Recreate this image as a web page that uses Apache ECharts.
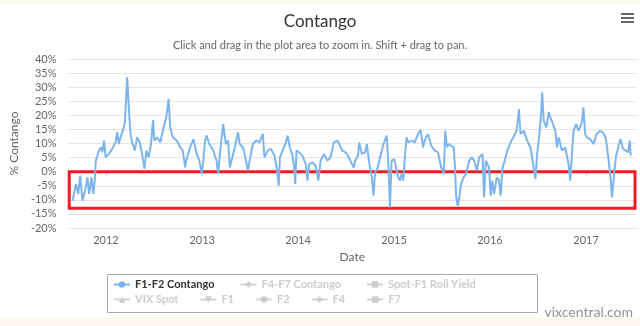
<!DOCTYPE html>
<html><head><meta charset="utf-8">
<script src="https://cdn.jsdelivr.net/npm/echarts@6/dist/echarts.min.js"></script>
<style>
html,body{margin:0;padding:0;background:#fbf8ee;width:640px;height:326px;overflow:hidden;}
#panel{position:absolute;left:0;top:4px;width:640px;height:314px;background:#ffffff;}
#chart{position:absolute;left:0;top:0;width:640px;height:326px;}
</style></head><body>
<div id="panel"></div><div id="chart"></div>
<script>
// Dates as decimal years
const dateYears = [
2011.652,2011.687,2011.711,2011.731,2011.755,2011.773,2011.790,2011.807,2011.824,2011.835,
2011.848,2011.869,2011.883,2011.894,2011.910,2011.928,2011.945,2011.962,2011.979,2011.997,
2012.031,2012.065,2012.100,2012.117,2012.134,2012.152,2012.179,2012.196,2012.207,2012.220,
2012.230,2012.241,2012.255,2012.272,2012.300,2012.323,2012.351,2012.375,2012.400,2012.420,
2012.444,2012.468,2012.489,2012.503,2012.530,2012.565,2012.599,2012.627,2012.651,2012.668,
2012.695,2012.737,2012.772,2012.799,2012.823,2012.834,2012.875,2012.909,2012.943,2012.971,
2012.995,2013.012,2013.030,2013.047,2013.074,2013.116,2013.150,2013.167,2013.185,2013.219,
2013.247,2013.271,2013.288,2013.305,2013.340,2013.374,2013.392,2013.426,2013.443,2013.477,
2013.495,2013.529,2013.563,2013.598,2013.632,2013.650,2013.684,2013.718,2013.753,2013.777,
2013.798,2013.811,2013.839,2013.873,2013.891,2013.914,2013.942,2013.960,2013.970,2013.984,
2014.011,2014.045,2014.080,2014.097,2014.115,2014.149,2014.183,2014.211,2014.235,2014.270,
2014.304,2014.338,2014.373,2014.407,2014.431,2014.459,2014.493,2014.528,2014.562,2014.580,
2014.596,2014.624,2014.638,2014.665,2014.700,2014.717,2014.741,2014.769,2014.786,2014.803,
2014.831,2014.855,2014.890,2014.924,2014.941,2014.958,2014.975,2015.003,2015.027,2015.044,
2015.061,2015.079,2015.096,2015.113,2015.130,2015.148,2015.182,2015.216,2015.251,2015.278,
2015.303,2015.319,2015.354,2015.388,2015.423,2015.458,2015.492,2015.520,2015.533,2015.554,
2015.567,2015.595,2015.623,2015.636,2015.647,2015.664,2015.681,2015.698,2015.726,2015.750,
2015.784,2015.809,2015.836,2015.864,2015.888,2015.923,2015.939,2015.957,2015.991,2016.008,
2016.026,2016.043,2016.070,2016.094,2016.112,2016.129,2016.153,2016.181,2016.215,2016.243,
2016.277,2016.290,2016.301,2016.318,2016.352,2016.387,2016.422,2016.449,2016.473,2016.491,
2016.518,2016.532,2016.543,2016.559,2016.587,2016.611,2016.628,2016.656,2016.680,2016.697,
2016.714,2016.749,2016.783,2016.817,2016.835,2016.852,2016.869,2016.897,2016.921,2016.956,
2016.972,2016.990,2017.007,2017.042,2017.076,2017.111,2017.145,2017.179,2017.207,2017.231,
2017.255,2017.269,2017.289,2017.310,2017.334,2017.358,2017.385,2017.413,2017.437,2017.455,
2017.465
];
// F1-F2 contango (%)
const contango = [
-10.3,-4.4,-7.9,-1.4,-10.3,-10.9,-5.6,-2.0,-7.9,-5.6,
-2.0,-7.9,-3.2,3.9,3.9,7.5,8.6,6.9,11.0,5.1,
6.3,8.1,10.4,14.0,9.8,12.2,15.1,17.5,24.0,33.5,
27.6,20.5,13.4,10.4,7.5,12.2,10.4,6.3,1.0,7.5,
5.1,9.8,18.3,11.0,12.2,10.4,15.7,19.3,25.8,15.7,
12.2,11.0,8.6,7.5,1.5,3.9,8.6,11.6,6.3,3.9,
-0.8,3.9,11.0,12.8,9.8,7.5,3.9,-0.8,6.3,16.9,
9.8,11.0,1.5,3.9,8.6,14.0,9.8,8.6,6.3,0.4,
3.9,9.8,11.0,10.4,13.4,5.1,7.5,8.1,5.7,1.5,
-5.0,5.1,7.5,10.4,12.8,8.6,5.7,1.5,-4.4,7.5,
6.9,5.7,2.7,-3.2,2.7,3.3,2.1,-3.2,3.9,6.3,
3.9,5.1,10.4,11.0,9.8,7.5,6.9,5.1,2.7,1.5,
3.9,5.7,10.4,6.3,6.9,9.8,3.3,-2.0,-8.5,-0.2,
1.5,5.1,9.8,12.8,2.7,-12.7,3.9,4.5,0.4,-2.0,
-3.2,-0.8,-3.2,5.1,12.2,10.4,11.0,10.4,13.4,14.8,
8.6,11.0,13.4,9.2,7.5,6.9,1.5,-0.8,14.5,8.6,
9.8,9.2,8.6,1.5,-8.5,-12.1,-9.1,-4.4,-2.0,-0.8,
3.9,5.1,3.9,0.4,5.1,6.3,-9.1,3.9,1.5,-8.5,
-3.2,-7.9,-2.0,-3.2,-8.5,0.9,3.9,7.5,10.4,12.2,
14.5,18.1,22.2,13.4,14.5,11.0,8.6,2.7,-2.6,6.3,
14.5,20.5,28.2,18.1,15.7,21.1,19.3,16.9,14.5,8.6,
12.2,7.5,8.6,2.7,-3.2,6.3,14.5,16.9,14.5,17.5,
22.8,13.4,12.2,11.6,9.8,13.4,14.5,13.9,11.6,5.1,
-2.0,-9.1,-2.0,5.1,8.6,11.6,8.1,7.5,6.9,11.0,
5.7
];
const seriesNames = ['F1-F2 Contango','F4-F7 Contango','Spot-F1 Roll Yield','VIX Spot','F1','F2','F4','F7'];
const seriesSymbols = ['circle','diamond','rect','triangle','path://M0,0 L10,0 L5,10 Z','circle','diamond','rect'];
const seriesColors = ['#7cb5ec','#434348','#90ed7d','#f7a35c','#8085e9','#f15c80','#e4d354','#2b908f'];
const visibleSeries = ['F1-F2 Contango'];
const xAxisStartYear = 2011.61, xAxisEndYear = 2017.52;
const yMin = -20, yMax = 40, yStep = 5;
const boxStartYear = 2011.617, boxEndYear = 2017.51, boxTop = 0, boxBottom = -13;
const titleText = 'Contango';
const subtitleText = 'Click and drag in the plot area to zoom in. Shift + drag to pan.';
const xAxisName = 'Date', yAxisName = '% Contango', creditText = 'vixcentral.com';

function yearToTs(t){
  const y = Math.floor(t);
  const a = Date.UTC(y,0,1), b = Date.UTC(y+1,0,1);
  return a + (t - y) * (b - a);
}
const FONT = 'Lato, "Liberation Sans", sans-serif';
const chart = echarts.init(document.getElementById('chart'), null, {renderer:'canvas'});
const selected = {};
seriesNames.forEach(n => selected[n] = visibleSeries.indexOf(n) >= 0);
const legendCommon = {
  left: 113, itemWidth: 16, itemHeight: 8, selected: selected,
  inactiveColor:'#cccccc', inactiveBorderColor:'#cccccc',
  textStyle:{fontSize:11, color:'#333333', fontFamily:FONT, fontWeight:'bold'}, padding:0
};
const series = seriesNames.map((n,i) => {
  const s = {
    name:n, type:'line', symbol: seriesSymbols[i], showSymbol:false, animation:false,
    color: seriesColors[i], lineStyle:{width:2, color:seriesColors[i]},
    data: i === 0 ? dateYears.map((t,k) => [yearToTs(t), contango[k]]) : []
  };
  if (i === 0) {
    s.markArea = {silent:true, animation:false,
      itemStyle:{color:'rgba(0,0,0,0)', borderColor:'#ee1c24', borderWidth:3},
      data:[[{coord:[yearToTs(boxStartYear), boxTop]},{coord:[yearToTs(boxEndYear), boxBottom]}]]};
  }
  return s;
});
chart.setOption({
  useUTC: true,
  animation:false,
  textStyle:{fontFamily:FONT},
  title:[
    {text:titleText, left:'center', top:8, textStyle:{fontSize:17, fontWeight:'normal', color:'#333333', fontFamily:FONT}},
    {text:subtitleText, left:'center', top:35, textStyle:{fontSize:11, fontWeight:'normal', color:'#666666', fontFamily:FONT}}
  ],
  legend:[
    Object.assign({}, legendCommon, {top:279, itemGap:25, data:seriesNames.slice(0,3)}),
    Object.assign({}, legendCommon, {top:294, itemGap:21, data:seriesNames.slice(3)})
  ],
  grid:{left:64, right:4, top:59, bottom:98},
  xAxis:{
    type:'time', min:yearToTs(xAxisStartYear), max:yearToTs(xAxisEndYear), splitNumber:5,
    name:xAxisName, nameLocation:'middle', nameGap:23,
    nameTextStyle:{color:'#666666', fontSize:12, fontFamily:FONT},
    axisLine:{lineStyle:{color:'#ccd6eb'}},
    axisTick:{show:true, length:5, lineStyle:{color:'#ccd6eb'}},
    splitLine:{show:false},
    axisLabel:{color:'#666666', fontSize:11, margin:7, showMinLabel:false, showMaxLabel:false,
      formatter: v => String(new Date(v).getUTCFullYear())}
  },
  yAxis:{
    type:'value', min:yMin, max:yMax, interval:yStep,
    name:yAxisName, nameLocation:'middle', nameGap:45,
    nameTextStyle:{color:'#666666', fontSize:12, fontFamily:FONT},
    axisLine:{show:false}, axisTick:{show:false},
    splitLine:{lineStyle:{color:'#e6e6e6'}},
    axisLabel:{color:'#666666', fontSize:11, margin:12, formatter:'{value}%'}
  },
  graphic:[
    {type:'rect', silent:true, shape:{x:107.5, y:274.5, width:430, height:38}, style:{fill:'none', stroke:'#a8a8a8', lineWidth:1}},
    {type:'rect', silent:true, shape:{x:621, y:13, width:13, height:2}, style:{fill:'#666666'}},
    {type:'rect', silent:true, shape:{x:621, y:17, width:13, height:2}, style:{fill:'#666666'}},
    {type:'rect', silent:true, shape:{x:621, y:21, width:13, height:2}, style:{fill:'#666666'}},
    {type:'text', silent:true, right:7, top:305, style:{text:creditText, fill:'#909090', font:'14px ' + FONT}}
  ],
  series: series
});
</script></body></html>
